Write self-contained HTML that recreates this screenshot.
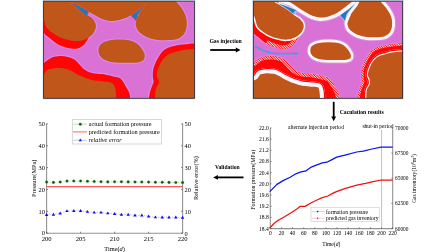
<!DOCTYPE html>
<html><head><meta charset="utf-8"><title>Gas injection figure</title><style>html,body{margin:0;padding:0;background:#fff;width:448px;height:252px;overflow:hidden}svg{display:block}</style></head><body>
<svg width="448" height="252" viewBox="0 0 448 252" font-family="'Liberation Serif',serif">
<rect width="448" height="252" fill="#fff"/>
<clipPath id="cpL"><rect x="43.6" y="1.2" width="150.8" height="97.1"/></clipPath>
<g clip-path="url(#cpL)">
<rect x="43.6" y="1.2" width="150.8" height="97.1" fill="#DA72D6"/>
<g fill="none" stroke="#D88AF3" stroke-width="2.3" stroke-linejoin="round">
<path d="M38,10L40,10L40,8C40.6,9.5 42.97,14 43.6,17C44.23,20 43.7,23.28 43.8,26C43.9,28.72 43.33,31.37 44.2,33.3C45.07,35.23 46.98,35.92 49,37.6C51.02,39.28 53.97,41.93 56.3,43.4C58.63,44.87 60.62,45.57 63,46.4C65.38,47.23 68.15,48.05 70.6,48.4C73.05,48.75 75.57,49.02 77.7,48.5C79.83,47.98 81.92,46.52 83.4,45.3C84.88,44.08 85.73,42.5 86.6,41.2C87.47,39.9 88.27,38.12 88.6,37.5L92,30L60,25Z"/>
<path d="M38,104L38,62L42,63.6C42.33,63.47 43.17,63.33 44,62.8C44.83,62.27 45.67,61.3 47,60.4C48.33,59.5 49.83,58.12 52,57.4C54.17,56.68 57.33,56.18 60,56.1C62.67,56.02 65.58,56.32 68,56.9C70.42,57.48 72.58,58.32 74.5,59.6C76.42,60.88 77.83,62.93 79.5,64.6C81.17,66.27 82.75,68.27 84.5,69.6C86.25,70.93 88.25,71.95 90,72.6C91.75,73.25 92.5,73.2 95,73.5C97.5,73.8 102.07,73.95 105,74.4C107.93,74.85 110.27,75.63 112.6,76.2C114.93,76.77 117.35,77.03 119,77.8C120.65,78.57 121.5,79.6 122.5,80.8C123.5,82 124.15,83.55 125,85C125.85,86.45 126.83,88.03 127.6,89.5C128.37,90.97 129.15,92.05 129.6,93.8C130.05,95.55 130.18,98.97 130.3,100L130.3,104Z"/>
<path d="M200,104L148.9,104L148.9,99L148.9,99C148.97,98.42 149.07,96.83 149.3,95.5C149.53,94.17 149.88,92.48 150.3,91C150.72,89.52 151.25,88.1 151.8,86.6C152.35,85.1 153.4,83.35 153.6,82C153.8,80.65 153.13,79.75 153,78.5C152.87,77.25 152.75,76.08 152.8,74.5C152.85,72.92 152.9,70.83 153.3,69C153.7,67.17 154.45,65.3 155.2,63.5C155.95,61.7 156.83,59.92 157.8,58.2C158.77,56.48 159.8,54.7 161,53.2C162.2,51.7 163.5,50.23 165,49.2C166.5,48.17 168.3,47.58 170,47C171.7,46.42 173.2,46.1 175.2,45.7C177.2,45.3 179.87,44.9 182,44.6C184.13,44.3 185,44.17 188,43.9C191,43.63 198,43.15 200,43Z"/>
<path d="M38,-4L72,-4L70.6,2.2L70.6,2.2C71.67,2.7 75.02,3.98 77,5.2C78.98,6.42 80.95,7.95 82.5,9.5C84.05,11.05 84.88,13.2 86.3,14.5C87.72,15.8 89.55,16.02 91,17.3C92.45,18.58 94.2,20.45 95,22.2C95.8,23.95 96.22,25.8 95.8,27.8C95.38,29.8 94.22,32.3 92.5,34.2C90.78,36.1 87.97,38.05 85.5,39.2C83.03,40.35 80.18,40.9 77.7,41.1C75.22,41.3 73.45,40.98 70.6,40.4C67.75,39.82 63.7,38.9 60.6,37.6C57.5,36.3 54.38,34.38 52,32.6C49.62,30.82 47.7,29.3 46.3,26.9C44.9,24.5 44.65,21.02 43.6,18.2C42.55,15.38 40.6,11.37 40,10Z"/>
<path d="M150,-4L60,-4L70.6,2.2L70.6,2.2C72.17,2.8 77.15,4.33 80,5.8C82.85,7.27 85.37,9.5 87.7,11C90.03,12.5 91.62,13.47 94,14.8C96.38,16.13 99.33,17.98 102,19C104.67,20.02 107.5,20.63 110,20.9C112.5,21.17 114.67,20.98 117,20.6C119.33,20.22 121.67,19.5 124,18.6C126.33,17.7 128.5,16.72 131,15.2C133.5,13.68 136.42,11.4 139,9.5C141.58,7.6 145.25,4.75 146.5,3.8Z"/>
<path d="M146.5,3.8L150,-4L175.2,-4L175.6,1L175.6,1C176.42,1.93 179.07,4.68 180.5,6.6C181.93,8.52 183.23,10.6 184.2,12.5C185.17,14.4 185.87,16.17 186.3,18C186.73,19.83 186.83,21.58 186.8,23.5C186.77,25.42 186.7,27.58 186.1,29.5C185.5,31.42 184.8,33.37 183.2,35C181.6,36.63 179.37,38.43 176.5,39.3C173.63,40.17 169.17,40.1 166,40.2C162.83,40.3 160.25,40.23 157.5,39.9C154.75,39.57 151.92,39.02 149.5,38.2C147.08,37.38 144.95,36.28 143,35C141.05,33.72 139.02,32.25 137.8,30.5C136.58,28.75 135.95,26.17 135.7,24.5C135.45,22.83 136.2,21.17 136.3,20.5L140,12Z"/>
<path d="M98.4,50.5C98.37,48.87 98.93,47.07 99.6,45.8C100.27,44.53 101,43.75 102.4,42.9C103.8,42.05 105.23,41.25 108,40.7C110.77,40.15 115.33,39.65 119,39.6C122.67,39.55 127.07,39.78 130,40.4C132.93,41.02 134.67,41.97 136.6,43.3C138.53,44.63 140.25,46.53 141.6,48.4C142.95,50.27 144.37,52.57 144.7,54.5C145.03,56.43 144.72,58.68 143.6,60C142.48,61.32 140.93,61.93 138,62.4C135.07,62.87 130.33,62.83 126,62.8C121.67,62.77 115.67,62.73 112,62.2C108.33,61.67 106.03,60.7 104,59.6C101.97,58.5 100.73,57.12 99.8,55.6C98.87,54.08 98.43,52.13 98.4,50.5Z"/>
<path d="M28,104L28,78L33,77.2C34,77.07 37.23,76.77 39,76.4C40.77,76.03 42.45,75.8 43.6,75C44.75,74.2 45,72.55 45.9,71.6C46.8,70.65 47.53,69.87 49,69.3C50.47,68.73 52.87,68.4 54.7,68.2C56.53,68 58.15,68.02 60,68.1C61.85,68.18 63.88,68.22 65.8,68.7C67.72,69.18 69.63,70.07 71.5,71C73.37,71.93 75.25,73.37 77,74.3C78.75,75.23 80.43,75.93 82,76.6C83.57,77.27 84.4,77.65 86.4,78.3C88.4,78.95 91.07,79.98 94,80.5C96.93,81.02 101.33,81.12 104,81.4C106.67,81.68 108.4,81.68 110,82.2C111.6,82.72 112.72,83.37 113.6,84.5C114.48,85.63 114.9,87.42 115.3,89C115.7,90.58 115.85,92.17 116,94C116.15,95.83 116.17,99 116.2,100L116.2,104Z"/>
<path d="M200,104L155.2,104L155.2,98.5L155.2,98.5C155.22,97.58 155.13,94.72 155.3,93C155.47,91.28 155.62,89.77 156.2,88.2C156.78,86.63 158.4,84.97 158.8,83.6C159.2,82.23 158.92,81.23 158.6,80C158.28,78.77 157.13,77.6 156.9,76.2C156.67,74.8 156.85,73.2 157.2,71.6C157.55,70 158.32,68.23 159,66.6C159.68,64.97 160.37,63.32 161.3,61.8C162.23,60.28 163.48,58.68 164.6,57.5C165.72,56.32 166.77,55.45 168,54.7C169.23,53.95 170.5,53.52 172,53C173.5,52.48 175.33,52.07 177,51.6C178.67,51.13 180.17,50.57 182,50.2C183.83,49.83 185,49.67 188,49.4C191,49.13 198,48.73 200,48.6Z"/>
</g>
<path d="M38,10L40,10L40,8C40.6,9.5 42.97,14 43.6,17C44.23,20 43.7,23.28 43.8,26C43.9,28.72 43.33,31.37 44.2,33.3C45.07,35.23 46.98,35.92 49,37.6C51.02,39.28 53.97,41.93 56.3,43.4C58.63,44.87 60.62,45.57 63,46.4C65.38,47.23 68.15,48.05 70.6,48.4C73.05,48.75 75.57,49.02 77.7,48.5C79.83,47.98 81.92,46.52 83.4,45.3C84.88,44.08 85.73,42.5 86.6,41.2C87.47,39.9 88.27,38.12 88.6,37.5L92,30L60,25Z" fill="#FF0606"/>
<path d="M38,104L38,62L42,63.6C42.33,63.47 43.17,63.33 44,62.8C44.83,62.27 45.67,61.3 47,60.4C48.33,59.5 49.83,58.12 52,57.4C54.17,56.68 57.33,56.18 60,56.1C62.67,56.02 65.58,56.32 68,56.9C70.42,57.48 72.58,58.32 74.5,59.6C76.42,60.88 77.83,62.93 79.5,64.6C81.17,66.27 82.75,68.27 84.5,69.6C86.25,70.93 88.25,71.95 90,72.6C91.75,73.25 92.5,73.2 95,73.5C97.5,73.8 102.07,73.95 105,74.4C107.93,74.85 110.27,75.63 112.6,76.2C114.93,76.77 117.35,77.03 119,77.8C120.65,78.57 121.5,79.6 122.5,80.8C123.5,82 124.15,83.55 125,85C125.85,86.45 126.83,88.03 127.6,89.5C128.37,90.97 129.15,92.05 129.6,93.8C130.05,95.55 130.18,98.97 130.3,100L130.3,104Z" fill="#FF0606"/>
<path d="M200,104L148.9,104L148.9,99L148.9,99C148.97,98.42 149.07,96.83 149.3,95.5C149.53,94.17 149.88,92.48 150.3,91C150.72,89.52 151.25,88.1 151.8,86.6C152.35,85.1 153.4,83.35 153.6,82C153.8,80.65 153.13,79.75 153,78.5C152.87,77.25 152.75,76.08 152.8,74.5C152.85,72.92 152.9,70.83 153.3,69C153.7,67.17 154.45,65.3 155.2,63.5C155.95,61.7 156.83,59.92 157.8,58.2C158.77,56.48 159.8,54.7 161,53.2C162.2,51.7 163.5,50.23 165,49.2C166.5,48.17 168.3,47.58 170,47C171.7,46.42 173.2,46.1 175.2,45.7C177.2,45.3 179.87,44.9 182,44.6C184.13,44.3 185,44.17 188,43.9C191,43.63 198,43.15 200,43Z" fill="#FF0606"/>
<path d="M38,-4L72,-4L70.6,2.2L70.6,2.2C71.67,2.7 75.02,3.98 77,5.2C78.98,6.42 80.95,7.95 82.5,9.5C84.05,11.05 84.88,13.2 86.3,14.5C87.72,15.8 89.55,16.02 91,17.3C92.45,18.58 94.2,20.45 95,22.2C95.8,23.95 96.22,25.8 95.8,27.8C95.38,29.8 94.22,32.3 92.5,34.2C90.78,36.1 87.97,38.05 85.5,39.2C83.03,40.35 80.18,40.9 77.7,41.1C75.22,41.3 73.45,40.98 70.6,40.4C67.75,39.82 63.7,38.9 60.6,37.6C57.5,36.3 54.38,34.38 52,32.6C49.62,30.82 47.7,29.3 46.3,26.9C44.9,24.5 44.65,21.02 43.6,18.2C42.55,15.38 40.6,11.37 40,10Z" fill="#C1561A"/>
<path d="M150,-4L60,-4L70.6,2.2L70.6,2.2C72.17,2.8 77.15,4.33 80,5.8C82.85,7.27 85.37,9.5 87.7,11C90.03,12.5 91.62,13.47 94,14.8C96.38,16.13 99.33,17.98 102,19C104.67,20.02 107.5,20.63 110,20.9C112.5,21.17 114.67,20.98 117,20.6C119.33,20.22 121.67,19.5 124,18.6C126.33,17.7 128.5,16.72 131,15.2C133.5,13.68 136.42,11.4 139,9.5C141.58,7.6 145.25,4.75 146.5,3.8Z" fill="#C1561A"/>
<path d="M146.5,3.8L150,-4L175.2,-4L175.6,1L175.6,1C176.42,1.93 179.07,4.68 180.5,6.6C181.93,8.52 183.23,10.6 184.2,12.5C185.17,14.4 185.87,16.17 186.3,18C186.73,19.83 186.83,21.58 186.8,23.5C186.77,25.42 186.7,27.58 186.1,29.5C185.5,31.42 184.8,33.37 183.2,35C181.6,36.63 179.37,38.43 176.5,39.3C173.63,40.17 169.17,40.1 166,40.2C162.83,40.3 160.25,40.23 157.5,39.9C154.75,39.57 151.92,39.02 149.5,38.2C147.08,37.38 144.95,36.28 143,35C141.05,33.72 139.02,32.25 137.8,30.5C136.58,28.75 135.95,26.17 135.7,24.5C135.45,22.83 136.2,21.17 136.3,20.5L140,12Z" fill="#C1561A"/>
<path d="M98.4,50.5C98.37,48.87 98.93,47.07 99.6,45.8C100.27,44.53 101,43.75 102.4,42.9C103.8,42.05 105.23,41.25 108,40.7C110.77,40.15 115.33,39.65 119,39.6C122.67,39.55 127.07,39.78 130,40.4C132.93,41.02 134.67,41.97 136.6,43.3C138.53,44.63 140.25,46.53 141.6,48.4C142.95,50.27 144.37,52.57 144.7,54.5C145.03,56.43 144.72,58.68 143.6,60C142.48,61.32 140.93,61.93 138,62.4C135.07,62.87 130.33,62.83 126,62.8C121.67,62.77 115.67,62.73 112,62.2C108.33,61.67 106.03,60.7 104,59.6C101.97,58.5 100.73,57.12 99.8,55.6C98.87,54.08 98.43,52.13 98.4,50.5Z" fill="#C1561A"/>
<path d="M28,104L28,78L33,77.2C34,77.07 37.23,76.77 39,76.4C40.77,76.03 42.45,75.8 43.6,75C44.75,74.2 45,72.55 45.9,71.6C46.8,70.65 47.53,69.87 49,69.3C50.47,68.73 52.87,68.4 54.7,68.2C56.53,68 58.15,68.02 60,68.1C61.85,68.18 63.88,68.22 65.8,68.7C67.72,69.18 69.63,70.07 71.5,71C73.37,71.93 75.25,73.37 77,74.3C78.75,75.23 80.43,75.93 82,76.6C83.57,77.27 84.4,77.65 86.4,78.3C88.4,78.95 91.07,79.98 94,80.5C96.93,81.02 101.33,81.12 104,81.4C106.67,81.68 108.4,81.68 110,82.2C111.6,82.72 112.72,83.37 113.6,84.5C114.48,85.63 114.9,87.42 115.3,89C115.7,90.58 115.85,92.17 116,94C116.15,95.83 116.17,99 116.2,100L116.2,104Z" fill="#C1561A"/>
<path d="M200,104L155.2,104L155.2,98.5L155.2,98.5C155.22,97.58 155.13,94.72 155.3,93C155.47,91.28 155.62,89.77 156.2,88.2C156.78,86.63 158.4,84.97 158.8,83.6C159.2,82.23 158.92,81.23 158.6,80C158.28,78.77 157.13,77.6 156.9,76.2C156.67,74.8 156.85,73.2 157.2,71.6C157.55,70 158.32,68.23 159,66.6C159.68,64.97 160.37,63.32 161.3,61.8C162.23,60.28 163.48,58.68 164.6,57.5C165.72,56.32 166.77,55.45 168,54.7C169.23,53.95 170.5,53.52 172,53C173.5,52.48 175.33,52.07 177,51.6C178.67,51.13 180.17,50.57 182,50.2C183.83,49.83 185,49.67 188,49.4C191,49.13 198,48.73 200,48.6Z" fill="#C1561A"/>
<path d="M70,2.8C70.43,2.67 73.33,3.35 75,3.9C76.67,4.45 78.33,5.22 80,6.1C81.67,6.98 83.58,8.33 85,9.2C86.42,10.07 88.05,10.53 88.5,11.3C88.95,12.07 88,12.98 87.7,13.8C87.4,14.62 87.32,16.1 86.7,16.2C86.08,16.3 85.05,15.27 84,14.4C82.95,13.53 81.73,12.15 80.4,11C79.07,9.85 77.33,8.55 76,7.5C74.67,6.45 73.4,5.48 72.4,4.7C71.4,3.92 69.57,2.93 70,2.8Z" fill="#1E78C8" stroke="#EC5212" stroke-width="1.0" stroke-linejoin="round"/>
<path d="M146.6,3.6C146.9,3.7 143.98,7.03 142.6,8.8C141.22,10.57 139.33,12.18 138.3,14.2C137.27,16.22 137.08,20.17 136.4,20.9C135.72,21.63 135.05,19.52 134.2,18.6C133.35,17.68 131.08,16.5 131.3,15.4C131.52,14.3 133.92,13.2 135.5,12C137.08,10.8 138.95,9.6 140.8,8.2C142.65,6.8 146.3,3.5 146.6,3.6Z" fill="#1E78C8" stroke="#EC5212" stroke-width="1.0" stroke-linejoin="round"/>
</g>
<rect x="43.05" y="0.65" width="151.9" height="98.2" fill="none" stroke="#A9C2D2" stroke-width="0.6"/>
<rect x="43.6" y="1.2" width="150.8" height="97.1" fill="none" stroke="#262a30" stroke-width="0.85"/>
<defs>
<pattern id="hatch" width="1.8" height="1.8" patternUnits="userSpaceOnUse" patternTransform="rotate(-45)"><rect width="1.8" height="1.8" fill="#FF0606"/><rect width="0.8" height="1.8" fill="#fff"/></pattern>
<pattern id="hatchw" width="1.5" height="1.5" patternUnits="userSpaceOnUse" patternTransform="rotate(45)"><rect width="1.5" height="1.5" fill="#2878D0"/><rect width="0.75" height="1.5" fill="#fff"/></pattern>
<clipPath id="cg0"><path d="M38,-4L72,-4L70.6,2.2L70.6,2.2C71.67,2.7 75.02,3.98 77,5.2C78.98,6.42 80.95,7.95 82.5,9.5C84.05,11.05 84.88,13.2 86.3,14.5C87.72,15.8 89.55,16.02 91,17.3C92.45,18.58 94.2,20.45 95,22.2C95.8,23.95 96.22,25.8 95.8,27.8C95.38,29.8 94.22,32.3 92.5,34.2C90.78,36.1 87.97,38.05 85.5,39.2C83.03,40.35 80.18,40.9 77.7,41.1C75.22,41.3 73.45,40.98 70.6,40.4C67.75,39.82 63.7,38.9 60.6,37.6C57.5,36.3 54.38,34.38 52,32.6C49.62,30.82 47.7,29.3 46.3,26.9C44.9,24.5 44.65,21.02 43.6,18.2C42.55,15.38 40.6,11.37 40,10Z"/></clipPath>
<clipPath id="cg1"><path d="M150,-4L60,-4L70.6,2.2L70.6,2.2C72.17,2.8 77.15,4.33 80,5.8C82.85,7.27 85.37,9.5 87.7,11C90.03,12.5 91.62,13.47 94,14.8C96.38,16.13 99.33,17.98 102,19C104.67,20.02 107.5,20.63 110,20.9C112.5,21.17 114.67,20.98 117,20.6C119.33,20.22 121.67,19.5 124,18.6C126.33,17.7 128.5,16.72 131,15.2C133.5,13.68 136.42,11.4 139,9.5C141.58,7.6 145.25,4.75 146.5,3.8Z"/></clipPath>
<clipPath id="cg2"><path d="M146.5,3.8L150,-4L175.2,-4L175.6,1L175.6,1C176.42,1.93 179.07,4.68 180.5,6.6C181.93,8.52 183.23,10.6 184.2,12.5C185.17,14.4 185.87,16.17 186.3,18C186.73,19.83 186.83,21.58 186.8,23.5C186.77,25.42 186.7,27.58 186.1,29.5C185.5,31.42 184.8,33.37 183.2,35C181.6,36.63 179.37,38.43 176.5,39.3C173.63,40.17 169.17,40.1 166,40.2C162.83,40.3 160.25,40.23 157.5,39.9C154.75,39.57 151.92,39.02 149.5,38.2C147.08,37.38 144.95,36.28 143,35C141.05,33.72 139.02,32.25 137.8,30.5C136.58,28.75 135.95,26.17 135.7,24.5C135.45,22.83 136.2,21.17 136.3,20.5L140,12Z"/></clipPath>
<clipPath id="cg3"><path d="M98.4,50.5C98.37,48.87 98.93,47.07 99.6,45.8C100.27,44.53 101,43.75 102.4,42.9C103.8,42.05 105.23,41.25 108,40.7C110.77,40.15 115.33,39.65 119,39.6C122.67,39.55 127.07,39.78 130,40.4C132.93,41.02 134.67,41.97 136.6,43.3C138.53,44.63 140.25,46.53 141.6,48.4C142.95,50.27 144.37,52.57 144.7,54.5C145.03,56.43 144.72,58.68 143.6,60C142.48,61.32 140.93,61.93 138,62.4C135.07,62.87 130.33,62.83 126,62.8C121.67,62.77 115.67,62.73 112,62.2C108.33,61.67 106.03,60.7 104,59.6C101.97,58.5 100.73,57.12 99.8,55.6C98.87,54.08 98.43,52.13 98.4,50.5Z"/></clipPath>
<clipPath id="cg4"><path d="M28,104L28,78L33,77.2C34,77.07 37.23,76.77 39,76.4C40.77,76.03 42.45,75.8 43.6,75C44.75,74.2 45,72.55 45.9,71.6C46.8,70.65 47.53,69.87 49,69.3C50.47,68.73 52.87,68.4 54.7,68.2C56.53,68 58.15,68.02 60,68.1C61.85,68.18 63.88,68.22 65.8,68.7C67.72,69.18 69.63,70.07 71.5,71C73.37,71.93 75.25,73.37 77,74.3C78.75,75.23 80.43,75.93 82,76.6C83.57,77.27 84.4,77.65 86.4,78.3C88.4,78.95 91.07,79.98 94,80.5C96.93,81.02 101.33,81.12 104,81.4C106.67,81.68 108.4,81.68 110,82.2C111.6,82.72 112.72,83.37 113.6,84.5C114.48,85.63 114.9,87.42 115.3,89C115.7,90.58 115.85,92.17 116,94C116.15,95.83 116.17,99 116.2,100L116.2,104Z"/></clipPath>
<clipPath id="cg5"><path d="M200,104L155.2,104L155.2,98.5L155.2,98.5C155.22,97.58 155.13,94.72 155.3,93C155.47,91.28 155.62,89.77 156.2,88.2C156.78,86.63 158.4,84.97 158.8,83.6C159.2,82.23 158.92,81.23 158.6,80C158.28,78.77 157.13,77.6 156.9,76.2C156.67,74.8 156.85,73.2 157.2,71.6C157.55,70 158.32,68.23 159,66.6C159.68,64.97 160.37,63.32 161.3,61.8C162.23,60.28 163.48,58.68 164.6,57.5C165.72,56.32 166.77,55.45 168,54.7C169.23,53.95 170.5,53.52 172,53C173.5,52.48 175.33,52.07 177,51.6C178.67,51.13 180.17,50.57 182,50.2C183.83,49.83 185,49.67 188,49.4C191,49.13 198,48.73 200,48.6Z"/></clipPath>
<clipPath id="cr0"><path d="M38,10L40,10L40,8C40.6,9.5 42.97,14 43.6,17C44.23,20 43.7,23.28 43.8,26C43.9,28.72 43.33,31.37 44.2,33.3C45.07,35.23 46.98,35.92 49,37.6C51.02,39.28 53.97,41.93 56.3,43.4C58.63,44.87 60.62,45.57 63,46.4C65.38,47.23 68.15,48.05 70.6,48.4C73.05,48.75 75.57,49.02 77.7,48.5C79.83,47.98 81.92,46.52 83.4,45.3C84.88,44.08 85.73,42.5 86.6,41.2C87.47,39.9 88.27,38.12 88.6,37.5L92,30L60,25Z"/></clipPath>
<clipPath id="cr1"><path d="M38,104L38,62L42,63.6C42.33,63.47 43.17,63.33 44,62.8C44.83,62.27 45.67,61.3 47,60.4C48.33,59.5 49.83,58.12 52,57.4C54.17,56.68 57.33,56.18 60,56.1C62.67,56.02 65.58,56.32 68,56.9C70.42,57.48 72.58,58.32 74.5,59.6C76.42,60.88 77.83,62.93 79.5,64.6C81.17,66.27 82.75,68.27 84.5,69.6C86.25,70.93 88.25,71.95 90,72.6C91.75,73.25 92.5,73.2 95,73.5C97.5,73.8 102.07,73.95 105,74.4C107.93,74.85 110.27,75.63 112.6,76.2C114.93,76.77 117.35,77.03 119,77.8C120.65,78.57 121.5,79.6 122.5,80.8C123.5,82 124.15,83.55 125,85C125.85,86.45 126.83,88.03 127.6,89.5C128.37,90.97 129.15,92.05 129.6,93.8C130.05,95.55 130.18,98.97 130.3,100L130.3,104Z"/></clipPath>
<clipPath id="cr2"><path d="M200,104L148.9,104L148.9,99L148.9,99C148.97,98.42 149.07,96.83 149.3,95.5C149.53,94.17 149.88,92.48 150.3,91C150.72,89.52 151.25,88.1 151.8,86.6C152.35,85.1 153.4,83.35 153.6,82C153.8,80.65 153.13,79.75 153,78.5C152.87,77.25 152.75,76.08 152.8,74.5C152.85,72.92 152.9,70.83 153.3,69C153.7,67.17 154.45,65.3 155.2,63.5C155.95,61.7 156.83,59.92 157.8,58.2C158.77,56.48 159.8,54.7 161,53.2C162.2,51.7 163.5,50.23 165,49.2C166.5,48.17 168.3,47.58 170,47C171.7,46.42 173.2,46.1 175.2,45.7C177.2,45.3 179.87,44.9 182,44.6C184.13,44.3 185,44.17 188,43.9C191,43.63 198,43.15 200,43Z"/></clipPath>
</defs>
<clipPath id="cpR"><rect x="43.6" y="1.2" width="150.8" height="97.1"/></clipPath>
<g transform="translate(253.4,0) scale(0.9894,1) translate(-43.6,0)"><g clip-path="url(#cpR)">
<rect x="43.6" y="1.2" width="150.8" height="97.1" fill="#DA72D6"/>
<g fill="none" stroke="#D88AF3" stroke-width="1.8" stroke-linejoin="round">
<path d="M38,10L40,10L40,8C40.6,9.5 42.97,14 43.6,17C44.23,20 43.7,23.28 43.8,26C43.9,28.72 43.33,31.37 44.2,33.3C45.07,35.23 46.98,35.92 49,37.6C51.02,39.28 53.97,41.93 56.3,43.4C58.63,44.87 60.62,45.57 63,46.4C65.38,47.23 68.15,48.05 70.6,48.4C73.05,48.75 75.57,49.02 77.7,48.5C79.83,47.98 81.92,46.52 83.4,45.3C84.88,44.08 85.73,42.5 86.6,41.2C87.47,39.9 88.27,38.12 88.6,37.5L92,30L60,25Z"/>
<path d="M38,104L38,62L42,63.6C42.33,63.47 43.17,63.33 44,62.8C44.83,62.27 45.67,61.3 47,60.4C48.33,59.5 49.83,58.12 52,57.4C54.17,56.68 57.33,56.18 60,56.1C62.67,56.02 65.58,56.32 68,56.9C70.42,57.48 72.58,58.32 74.5,59.6C76.42,60.88 77.83,62.93 79.5,64.6C81.17,66.27 82.75,68.27 84.5,69.6C86.25,70.93 88.25,71.95 90,72.6C91.75,73.25 92.5,73.2 95,73.5C97.5,73.8 102.07,73.95 105,74.4C107.93,74.85 110.27,75.63 112.6,76.2C114.93,76.77 117.35,77.03 119,77.8C120.65,78.57 121.5,79.6 122.5,80.8C123.5,82 124.15,83.55 125,85C125.85,86.45 126.83,88.03 127.6,89.5C128.37,90.97 129.15,92.05 129.6,93.8C130.05,95.55 130.18,98.97 130.3,100L130.3,104Z"/>
<path d="M200,104L148.9,104L148.9,99L148.9,99C148.97,98.42 149.07,96.83 149.3,95.5C149.53,94.17 149.88,92.48 150.3,91C150.72,89.52 151.25,88.1 151.8,86.6C152.35,85.1 153.4,83.35 153.6,82C153.8,80.65 153.13,79.75 153,78.5C152.87,77.25 152.75,76.08 152.8,74.5C152.85,72.92 152.9,70.83 153.3,69C153.7,67.17 154.45,65.3 155.2,63.5C155.95,61.7 156.83,59.92 157.8,58.2C158.77,56.48 159.8,54.7 161,53.2C162.2,51.7 163.5,50.23 165,49.2C166.5,48.17 168.3,47.58 170,47C171.7,46.42 173.2,46.1 175.2,45.7C177.2,45.3 179.87,44.9 182,44.6C184.13,44.3 185,44.17 188,43.9C191,43.63 198,43.15 200,43Z"/>
<path d="M38,-4L72,-4L70.6,2.2L70.6,2.2C71.67,2.7 75.02,3.98 77,5.2C78.98,6.42 80.95,7.95 82.5,9.5C84.05,11.05 84.88,13.2 86.3,14.5C87.72,15.8 89.55,16.02 91,17.3C92.45,18.58 94.2,20.45 95,22.2C95.8,23.95 96.22,25.8 95.8,27.8C95.38,29.8 94.22,32.3 92.5,34.2C90.78,36.1 87.97,38.05 85.5,39.2C83.03,40.35 80.18,40.9 77.7,41.1C75.22,41.3 73.45,40.98 70.6,40.4C67.75,39.82 63.7,38.9 60.6,37.6C57.5,36.3 54.38,34.38 52,32.6C49.62,30.82 47.7,29.3 46.3,26.9C44.9,24.5 44.65,21.02 43.6,18.2C42.55,15.38 40.6,11.37 40,10Z"/>
<path d="M150,-4L60,-4L70.6,2.2L70.6,2.2C72.17,2.8 77.15,4.33 80,5.8C82.85,7.27 85.37,9.5 87.7,11C90.03,12.5 91.62,13.47 94,14.8C96.38,16.13 99.33,17.98 102,19C104.67,20.02 107.5,20.63 110,20.9C112.5,21.17 114.67,20.98 117,20.6C119.33,20.22 121.67,19.5 124,18.6C126.33,17.7 128.5,16.72 131,15.2C133.5,13.68 136.42,11.4 139,9.5C141.58,7.6 145.25,4.75 146.5,3.8Z"/>
<path d="M146.5,3.8L150,-4L175.2,-4L175.6,1L175.6,1C176.42,1.93 179.07,4.68 180.5,6.6C181.93,8.52 183.23,10.6 184.2,12.5C185.17,14.4 185.87,16.17 186.3,18C186.73,19.83 186.83,21.58 186.8,23.5C186.77,25.42 186.7,27.58 186.1,29.5C185.5,31.42 184.8,33.37 183.2,35C181.6,36.63 179.37,38.43 176.5,39.3C173.63,40.17 169.17,40.1 166,40.2C162.83,40.3 160.25,40.23 157.5,39.9C154.75,39.57 151.92,39.02 149.5,38.2C147.08,37.38 144.95,36.28 143,35C141.05,33.72 139.02,32.25 137.8,30.5C136.58,28.75 135.95,26.17 135.7,24.5C135.45,22.83 136.2,21.17 136.3,20.5L140,12Z"/>
<path d="M98.4,50.5C98.37,48.87 98.93,47.07 99.6,45.8C100.27,44.53 101,43.75 102.4,42.9C103.8,42.05 105.23,41.25 108,40.7C110.77,40.15 115.33,39.65 119,39.6C122.67,39.55 127.07,39.78 130,40.4C132.93,41.02 134.67,41.97 136.6,43.3C138.53,44.63 140.25,46.53 141.6,48.4C142.95,50.27 144.37,52.57 144.7,54.5C145.03,56.43 144.72,58.68 143.6,60C142.48,61.32 140.93,61.93 138,62.4C135.07,62.87 130.33,62.83 126,62.8C121.67,62.77 115.67,62.73 112,62.2C108.33,61.67 106.03,60.7 104,59.6C101.97,58.5 100.73,57.12 99.8,55.6C98.87,54.08 98.43,52.13 98.4,50.5Z"/>
<path d="M28,104L28,78L33,77.2C34,77.07 37.23,76.77 39,76.4C40.77,76.03 42.45,75.8 43.6,75C44.75,74.2 45,72.55 45.9,71.6C46.8,70.65 47.53,69.87 49,69.3C50.47,68.73 52.87,68.4 54.7,68.2C56.53,68 58.15,68.02 60,68.1C61.85,68.18 63.88,68.22 65.8,68.7C67.72,69.18 69.63,70.07 71.5,71C73.37,71.93 75.25,73.37 77,74.3C78.75,75.23 80.43,75.93 82,76.6C83.57,77.27 84.4,77.65 86.4,78.3C88.4,78.95 91.07,79.98 94,80.5C96.93,81.02 101.33,81.12 104,81.4C106.67,81.68 108.4,81.68 110,82.2C111.6,82.72 112.72,83.37 113.6,84.5C114.48,85.63 114.9,87.42 115.3,89C115.7,90.58 115.85,92.17 116,94C116.15,95.83 116.17,99 116.2,100L116.2,104Z"/>
<path d="M200,104L155.2,104L155.2,98.5L155.2,98.5C155.22,97.58 155.13,94.72 155.3,93C155.47,91.28 155.62,89.77 156.2,88.2C156.78,86.63 158.4,84.97 158.8,83.6C159.2,82.23 158.92,81.23 158.6,80C158.28,78.77 157.13,77.6 156.9,76.2C156.67,74.8 156.85,73.2 157.2,71.6C157.55,70 158.32,68.23 159,66.6C159.68,64.97 160.37,63.32 161.3,61.8C162.23,60.28 163.48,58.68 164.6,57.5C165.72,56.32 166.77,55.45 168,54.7C169.23,53.95 170.5,53.52 172,53C173.5,52.48 175.33,52.07 177,51.6C178.67,51.13 180.17,50.57 182,50.2C183.83,49.83 185,49.67 188,49.4C191,49.13 198,48.73 200,48.6Z"/>
</g>
<path d="M38,10L40,10L40,8C40.6,9.5 42.97,14 43.6,17C44.23,20 43.7,23.28 43.8,26C43.9,28.72 43.33,31.37 44.2,33.3C45.07,35.23 46.98,35.92 49,37.6C51.02,39.28 53.97,41.93 56.3,43.4C58.63,44.87 60.62,45.57 63,46.4C65.38,47.23 68.15,48.05 70.6,48.4C73.05,48.75 75.57,49.02 77.7,48.5C79.83,47.98 81.92,46.52 83.4,45.3C84.88,44.08 85.73,42.5 86.6,41.2C87.47,39.9 88.27,38.12 88.6,37.5L92,30L60,25Z" fill="#FF0606"/>
<path d="M56.3,43.4C57.42,43.9 60.62,45.57 63,46.4C65.38,47.23 68.15,48.05 70.6,48.4C73.05,48.75 75.57,49.02 77.7,48.5C79.83,47.98 81.92,46.52 83.4,45.3C84.88,44.08 85.73,42.5 86.6,41.2C87.47,39.9 88.27,38.12 88.6,37.5" fill="none" stroke="url(#hatch)" stroke-width="7" clip-path="url(#cr0)"/>
<path d="M38,104L38,62L42,63.6C42.33,63.47 43.17,63.33 44,62.8C44.83,62.27 45.67,61.3 47,60.4C48.33,59.5 49.83,58.12 52,57.4C54.17,56.68 57.33,56.18 60,56.1C62.67,56.02 65.58,56.32 68,56.9C70.42,57.48 72.58,58.32 74.5,59.6C76.42,60.88 77.83,62.93 79.5,64.6C81.17,66.27 82.75,68.27 84.5,69.6C86.25,70.93 88.25,71.95 90,72.6C91.75,73.25 92.5,73.2 95,73.5C97.5,73.8 102.07,73.95 105,74.4C107.93,74.85 110.27,75.63 112.6,76.2C114.93,76.77 117.35,77.03 119,77.8C120.65,78.57 121.5,79.6 122.5,80.8C123.5,82 124.15,83.55 125,85C125.85,86.45 126.83,88.03 127.6,89.5C128.37,90.97 129.15,92.05 129.6,93.8C130.05,95.55 130.18,98.97 130.3,100L130.3,104Z" fill="#FF0606"/>
<path d="M38,104L38,62L42,63.6C42.33,63.47 43.17,63.33 44,62.8C44.83,62.27 45.67,61.3 47,60.4C48.33,59.5 49.83,58.12 52,57.4C54.17,56.68 57.33,56.18 60,56.1C62.67,56.02 65.58,56.32 68,56.9C70.42,57.48 72.58,58.32 74.5,59.6C76.42,60.88 77.83,62.93 79.5,64.6C81.17,66.27 82.75,68.27 84.5,69.6C86.25,70.93 88.25,71.95 90,72.6C91.75,73.25 92.5,73.2 95,73.5C97.5,73.8 102.07,73.95 105,74.4C107.93,74.85 110.27,75.63 112.6,76.2C114.93,76.77 117.35,77.03 119,77.8C120.65,78.57 121.5,79.6 122.5,80.8C123.5,82 124.15,83.55 125,85C125.85,86.45 126.83,88.03 127.6,89.5C128.37,90.97 129.15,92.05 129.6,93.8C130.05,95.55 130.18,98.97 130.3,100L130.3,104Z" fill="none" stroke="url(#hatch)" stroke-width="6.6" clip-path="url(#cr1)"/>
<path d="M200,104L148.9,104L148.9,99L148.9,99C148.97,98.42 149.07,96.83 149.3,95.5C149.53,94.17 149.88,92.48 150.3,91C150.72,89.52 151.25,88.1 151.8,86.6C152.35,85.1 153.4,83.35 153.6,82C153.8,80.65 153.13,79.75 153,78.5C152.87,77.25 152.75,76.08 152.8,74.5C152.85,72.92 152.9,70.83 153.3,69C153.7,67.17 154.45,65.3 155.2,63.5C155.95,61.7 156.83,59.92 157.8,58.2C158.77,56.48 159.8,54.7 161,53.2C162.2,51.7 163.5,50.23 165,49.2C166.5,48.17 168.3,47.58 170,47C171.7,46.42 173.2,46.1 175.2,45.7C177.2,45.3 179.87,44.9 182,44.6C184.13,44.3 185,44.17 188,43.9C191,43.63 198,43.15 200,43Z" fill="#FF0606"/>
<path d="M200,104L148.9,104L148.9,99L148.9,99C148.97,98.42 149.07,96.83 149.3,95.5C149.53,94.17 149.88,92.48 150.3,91C150.72,89.52 151.25,88.1 151.8,86.6C152.35,85.1 153.4,83.35 153.6,82C153.8,80.65 153.13,79.75 153,78.5C152.87,77.25 152.75,76.08 152.8,74.5C152.85,72.92 152.9,70.83 153.3,69C153.7,67.17 154.45,65.3 155.2,63.5C155.95,61.7 156.83,59.92 157.8,58.2C158.77,56.48 159.8,54.7 161,53.2C162.2,51.7 163.5,50.23 165,49.2C166.5,48.17 168.3,47.58 170,47C171.7,46.42 173.2,46.1 175.2,45.7C177.2,45.3 179.87,44.9 182,44.6C184.13,44.3 185,44.17 188,43.9C191,43.63 198,43.15 200,43Z" fill="none" stroke="url(#hatch)" stroke-width="4.4" clip-path="url(#cr2)"/>
<g clip-path="url(#cg0)"><path d="M38,-4L72,-4L70.6,2.2L70.6,2.2C71.67,2.7 75.02,3.98 77,5.2C78.98,6.42 80.95,7.95 82.5,9.5C84.05,11.05 84.88,13.2 86.3,14.5C87.72,15.8 89.55,16.02 91,17.3C92.45,18.58 94.2,20.45 95,22.2C95.8,23.95 96.22,25.8 95.8,27.8C95.38,29.8 94.22,32.3 92.5,34.2C90.78,36.1 87.97,38.05 85.5,39.2C83.03,40.35 80.18,40.9 77.7,41.1C75.22,41.3 73.45,40.98 70.6,40.4C67.75,39.82 63.7,38.9 60.6,37.6C57.5,36.3 54.38,34.38 52,32.6C49.62,30.82 47.7,29.3 46.3,26.9C44.9,24.5 44.65,21.02 43.6,18.2C42.55,15.38 40.6,11.37 40,10Z" fill="#C1561A" stroke="#FCF4FC" stroke-width="3.0"/></g>
<g clip-path="url(#cg1)"><path d="M150,-4L60,-4L70.6,2.2L70.6,2.2C72.17,2.8 77.15,4.33 80,5.8C82.85,7.27 85.37,9.5 87.7,11C90.03,12.5 91.62,13.47 94,14.8C96.38,16.13 99.33,17.98 102,19C104.67,20.02 107.5,20.63 110,20.9C112.5,21.17 114.67,20.98 117,20.6C119.33,20.22 121.67,19.5 124,18.6C126.33,17.7 128.5,16.72 131,15.2C133.5,13.68 136.42,11.4 139,9.5C141.58,7.6 145.25,4.75 146.5,3.8Z" fill="#C1561A" stroke="#FCF4FC" stroke-width="7.0"/></g>
<g clip-path="url(#cg2)"><path d="M146.5,3.8L150,-4L175.2,-4L175.6,1L175.6,1C176.42,1.93 179.07,4.68 180.5,6.6C181.93,8.52 183.23,10.6 184.2,12.5C185.17,14.4 185.87,16.17 186.3,18C186.73,19.83 186.83,21.58 186.8,23.5C186.77,25.42 186.7,27.58 186.1,29.5C185.5,31.42 184.8,33.37 183.2,35C181.6,36.63 179.37,38.43 176.5,39.3C173.63,40.17 169.17,40.1 166,40.2C162.83,40.3 160.25,40.23 157.5,39.9C154.75,39.57 151.92,39.02 149.5,38.2C147.08,37.38 144.95,36.28 143,35C141.05,33.72 139.02,32.25 137.8,30.5C136.58,28.75 135.95,26.17 135.7,24.5C135.45,22.83 136.2,21.17 136.3,20.5L140,12Z" fill="#C1561A" stroke="#FCF4FC" stroke-width="6.0"/></g>
<g clip-path="url(#cg3)"><path d="M98.4,50.5C98.37,48.87 98.93,47.07 99.6,45.8C100.27,44.53 101,43.75 102.4,42.9C103.8,42.05 105.23,41.25 108,40.7C110.77,40.15 115.33,39.65 119,39.6C122.67,39.55 127.07,39.78 130,40.4C132.93,41.02 134.67,41.97 136.6,43.3C138.53,44.63 140.25,46.53 141.6,48.4C142.95,50.27 144.37,52.57 144.7,54.5C145.03,56.43 144.72,58.68 143.6,60C142.48,61.32 140.93,61.93 138,62.4C135.07,62.87 130.33,62.83 126,62.8C121.67,62.77 115.67,62.73 112,62.2C108.33,61.67 106.03,60.7 104,59.6C101.97,58.5 100.73,57.12 99.8,55.6C98.87,54.08 98.43,52.13 98.4,50.5Z" fill="#C1561A" stroke="#FCF4FC" stroke-width="5.4"/></g>
<g clip-path="url(#cg4)"><path d="M28,104L28,78L33,77.2C34,77.07 37.23,76.77 39,76.4C40.77,76.03 42.45,75.8 43.6,75C44.75,74.2 45,72.55 45.9,71.6C46.8,70.65 47.53,69.87 49,69.3C50.47,68.73 52.87,68.4 54.7,68.2C56.53,68 58.15,68.02 60,68.1C61.85,68.18 63.88,68.22 65.8,68.7C67.72,69.18 69.63,70.07 71.5,71C73.37,71.93 75.25,73.37 77,74.3C78.75,75.23 80.43,75.93 82,76.6C83.57,77.27 84.4,77.65 86.4,78.3C88.4,78.95 91.07,79.98 94,80.5C96.93,81.02 101.33,81.12 104,81.4C106.67,81.68 108.4,81.68 110,82.2C111.6,82.72 112.72,83.37 113.6,84.5C114.48,85.63 114.9,87.42 115.3,89C115.7,90.58 115.85,92.17 116,94C116.15,95.83 116.17,99 116.2,100L116.2,104Z" fill="#C1561A" stroke="#FCF4FC" stroke-width="10.6"/><path d="M28,104L28,78L33,77.2C34,77.07 37.23,76.77 39,76.4C40.77,76.03 42.45,75.8 43.6,75C44.75,74.2 45,72.55 45.9,71.6C46.8,70.65 47.53,69.87 49,69.3C50.47,68.73 52.87,68.4 54.7,68.2C56.53,68 58.15,68.02 60,68.1C61.85,68.18 63.88,68.22 65.8,68.7C67.72,69.18 69.63,70.07 71.5,71C73.37,71.93 75.25,73.37 77,74.3C78.75,75.23 80.43,75.93 82,76.6C83.57,77.27 84.4,77.65 86.4,78.3C88.4,78.95 91.07,79.98 94,80.5C96.93,81.02 101.33,81.12 104,81.4C106.67,81.68 108.4,81.68 110,82.2C111.6,82.72 112.72,83.37 113.6,84.5C114.48,85.63 114.9,87.42 115.3,89C115.7,90.58 115.85,92.17 116,94C116.15,95.83 116.17,99 116.2,100L116.2,104Z" fill="none" stroke="#FF0606" stroke-width="2.4"/></g>
<g clip-path="url(#cg5)"><path d="M200,104L155.2,104L155.2,98.5L155.2,98.5C155.22,97.58 155.13,94.72 155.3,93C155.47,91.28 155.62,89.77 156.2,88.2C156.78,86.63 158.4,84.97 158.8,83.6C159.2,82.23 158.92,81.23 158.6,80C158.28,78.77 157.13,77.6 156.9,76.2C156.67,74.8 156.85,73.2 157.2,71.6C157.55,70 158.32,68.23 159,66.6C159.68,64.97 160.37,63.32 161.3,61.8C162.23,60.28 163.48,58.68 164.6,57.5C165.72,56.32 166.77,55.45 168,54.7C169.23,53.95 170.5,53.52 172,53C173.5,52.48 175.33,52.07 177,51.6C178.67,51.13 180.17,50.57 182,50.2C183.83,49.83 185,49.67 188,49.4C191,49.13 198,48.73 200,48.6Z" fill="#C1561A" stroke="#FCF4FC" stroke-width="5.0"/><path d="M200,104L155.2,104L155.2,98.5L155.2,98.5C155.22,97.58 155.13,94.72 155.3,93C155.47,91.28 155.62,89.77 156.2,88.2C156.78,86.63 158.4,84.97 158.8,83.6C159.2,82.23 158.92,81.23 158.6,80C158.28,78.77 157.13,77.6 156.9,76.2C156.67,74.8 156.85,73.2 157.2,71.6C157.55,70 158.32,68.23 159,66.6C159.68,64.97 160.37,63.32 161.3,61.8C162.23,60.28 163.48,58.68 164.6,57.5C165.72,56.32 166.77,55.45 168,54.7C169.23,53.95 170.5,53.52 172,53C173.5,52.48 175.33,52.07 177,51.6C178.67,51.13 180.17,50.57 182,50.2C183.83,49.83 185,49.67 188,49.4C191,49.13 198,48.73 200,48.6Z" fill="none" stroke="#FF0606" stroke-width="2.8"/></g>
<path d="M65.8,2.4C66.63,2.53 71.03,3.78 73.5,4.6C75.97,5.42 78.28,6.37 80.6,7.3C82.92,8.23 86.43,9.32 87.4,10.2C88.37,11.08 86.83,11.83 86.4,12.6C85.97,13.37 85.45,14.77 84.8,14.8C84.15,14.83 83.37,13.5 82.5,12.8C81.63,12.1 81.1,11.63 79.6,10.6C78.1,9.57 75.35,7.73 73.5,6.6C71.65,5.47 69.78,4.5 68.5,3.8C67.22,3.1 64.97,2.27 65.8,2.4Z" fill="#1E78C8" stroke="#fff" stroke-width="0.7"/>
<path d="M84.2,13.6 L87.6,10.6" stroke="url(#hatchw)" stroke-width="2.2"/>
<path d="M146.6,3.6C146.9,3.7 143.98,7.03 142.6,8.8C141.22,10.57 139.33,12.18 138.3,14.2C137.27,16.22 137.08,20.17 136.4,20.9C135.72,21.63 135.05,19.52 134.2,18.6C133.35,17.68 131.08,16.5 131.3,15.4C131.52,14.3 133.92,13.2 135.5,12C137.08,10.8 138.95,9.6 140.8,8.2C142.65,6.8 146.3,3.5 146.6,3.6Z" fill="#1E78C8" stroke="#fff" stroke-width="0.6"/>
</g></g>
<path d="M254.9,45.6 C262,49.9 268,52.4 276,53.0 C285,53.4 291,53.0 296.5,52.8" fill="none" stroke="#E050C8" stroke-width="0.6"/>
<path d="M254.9,46.4 C262,50.7 268,53.2 276,53.8 C285,54.2 291,53.8 296.5,53.6" fill="none" stroke="#2FA8E6" stroke-width="1.3"/>
<path d="M299.2,53.6 L295.5,51.9 L295.5,55.3 Z" fill="#2FA8E6"/>
<rect x="252.85" y="0.65" width="150.3" height="98.2" fill="none" stroke="#A9C2D2" stroke-width="0.6"/>
<rect x="253.4" y="1.2" width="149.2" height="97.1" fill="none" stroke="#262a30" stroke-width="0.85"/>
<text x="225.6" y="42.9" font-size="5.75" text-anchor="middle" font-weight="bold" font-style="normal" fill="#000" >Gas injection</text>
<path d="M210.2,50 L236.5,50" stroke="#000" stroke-width="1.8"/>
<path d="M240.5,50 L235.8,47.6 L235.8,52.4 Z" fill="#000"/>
<path d="M333.7,101.8 L333.7,117.5" stroke="#000" stroke-width="1.8"/>
<path d="M333.7,121.3 L331.3,116.6 L336.1,116.6 Z" fill="#000"/>
<text x="339.7" y="113.9" font-size="5.7" text-anchor="start" font-weight="bold" font-style="normal" fill="#000" >Caculation results</text>
<text x="227.3" y="168.7" font-size="5.6" text-anchor="middle" font-weight="bold" font-style="normal" fill="#000" >Validation</text>
<path d="M217,177.4 L243.5,177.4" stroke="#000" stroke-width="1.8"/>
<path d="M213.2,177.4 L217.9,175 L217.9,179.8 Z" fill="#000"/>
<path d="M46.6,123.4 L46.6,233.2 L182.6,233.2 L182.6,123.4" fill="none" stroke="#939393" stroke-width="1.1"/>
<path d="M46.6,233.2h1.5M182.6,233.2h-1.5M46.6,211.34h1.5M182.6,211.34h-1.5M46.6,189.48h1.5M182.6,189.48h-1.5M46.6,167.62h1.5M182.6,167.62h-1.5M46.6,145.76h1.5M182.6,145.76h-1.5M46.6,123.9h1.5M182.6,123.9h-1.5M46.6,233.2v-1.5M80.6,233.2v-1.5M114.6,233.2v-1.5M148.6,233.2v-1.5M182.6,233.2v-1.5" stroke="#555" stroke-width="0.7"/>
<text x="44.9" y="235.4" font-size="6.4" text-anchor="end" font-weight="normal" font-style="normal" fill="#000" >0</text>
<text x="184.5" y="235.7" font-size="6.4" text-anchor="start" font-weight="normal" font-style="normal" fill="#000" >0</text>
<text x="44.9" y="213.54" font-size="6.4" text-anchor="end" font-weight="normal" font-style="normal" fill="#000" >10</text>
<text x="184.5" y="213.84" font-size="6.4" text-anchor="start" font-weight="normal" font-style="normal" fill="#000" >10</text>
<text x="44.9" y="191.68" font-size="6.4" text-anchor="end" font-weight="normal" font-style="normal" fill="#000" >20</text>
<text x="184.5" y="191.98" font-size="6.4" text-anchor="start" font-weight="normal" font-style="normal" fill="#000" >20</text>
<text x="44.9" y="169.82" font-size="6.4" text-anchor="end" font-weight="normal" font-style="normal" fill="#000" >30</text>
<text x="184.5" y="170.12" font-size="6.4" text-anchor="start" font-weight="normal" font-style="normal" fill="#000" >30</text>
<text x="44.9" y="147.96" font-size="6.4" text-anchor="end" font-weight="normal" font-style="normal" fill="#000" >40</text>
<text x="184.5" y="148.26" font-size="6.4" text-anchor="start" font-weight="normal" font-style="normal" fill="#000" >40</text>
<text x="44.9" y="126.1" font-size="6.4" text-anchor="end" font-weight="normal" font-style="normal" fill="#000" >50</text>
<text x="184.5" y="126.4" font-size="6.4" text-anchor="start" font-weight="normal" font-style="normal" fill="#000" >50</text>
<text x="46.6" y="240.8" font-size="6.6" text-anchor="middle" font-weight="normal" font-style="normal" fill="#000" >200</text>
<text x="80.6" y="240.8" font-size="6.6" text-anchor="middle" font-weight="normal" font-style="normal" fill="#000" >205</text>
<text x="114.6" y="240.8" font-size="6.6" text-anchor="middle" font-weight="normal" font-style="normal" fill="#000" >210</text>
<text x="148.6" y="240.8" font-size="6.6" text-anchor="middle" font-weight="normal" font-style="normal" fill="#000" >215</text>
<text x="182.6" y="240.8" font-size="6.6" text-anchor="middle" font-weight="normal" font-style="normal" fill="#000" >220</text>
<text x="114.6" y="250.6" font-size="6.4" text-anchor="middle">Time(<tspan font-style="italic">d</tspan>)</text>
<text x="0" y="0" font-size="6.7" text-anchor="middle" font-weight="normal" font-style="normal" fill="#000" textLength="37.2" lengthAdjust="spacingAndGlyphs" transform="translate(36.0,178.3) rotate(-90)">Pressure(MPa)</text>
<text x="0" y="0" font-size="6.7" text-anchor="middle" font-weight="normal" font-style="normal" fill="#000" textLength="43.6" lengthAdjust="spacingAndGlyphs" transform="translate(198.2,178.1) rotate(-90)">Relative error(%)</text>
<path d="M46.6,186.6 L182.6,186.6" stroke="#FF5A5A" stroke-width="1.05"/>
<polyline points="46.6,182.1 53.4,182.4 60.2,182 67,181.1 73.8,181 80.6,181 87.4,181.3 94.2,181.5 101,181.7 107.8,181.9 114.6,181.8 121.4,181.8 128.2,181.9 135,182 141.8,182 148.6,182.1 155.4,182.2 162.2,182.3 169,182.4 175.8,182.5 182.6,182.6" fill="none" stroke="#A8DCA8" stroke-width="0.8" stroke-dasharray="1.6,1.2"/>
<polyline points="46.6,214.8 53.4,214.5 60.2,213.3 67,210.9 73.8,210.8 80.6,210.8 87.4,211.7 94.2,212.4 101,212.4 107.8,213.2 114.6,213.8 121.4,214.6 128.2,214.5 135,215.3 141.8,215.3 148.6,216.3 155.4,217.2 162.2,217.3 169,217.3 175.8,217.3 182.6,217.5" fill="none" stroke="#A8B8F0" stroke-width="0.8" stroke-dasharray="1.6,1.2"/>
<circle cx="46.6" cy="182.1" r="1.3" fill="#0A5A0A" stroke="#1E8A1E" stroke-width="0.35"/>
<circle cx="53.4" cy="182.4" r="1.3" fill="#0A5A0A" stroke="#1E8A1E" stroke-width="0.35"/>
<circle cx="60.2" cy="182" r="1.3" fill="#0A5A0A" stroke="#1E8A1E" stroke-width="0.35"/>
<circle cx="67" cy="181.1" r="1.3" fill="#0A5A0A" stroke="#1E8A1E" stroke-width="0.35"/>
<circle cx="73.8" cy="181" r="1.3" fill="#0A5A0A" stroke="#1E8A1E" stroke-width="0.35"/>
<circle cx="80.6" cy="181" r="1.3" fill="#0A5A0A" stroke="#1E8A1E" stroke-width="0.35"/>
<circle cx="87.4" cy="181.3" r="1.3" fill="#0A5A0A" stroke="#1E8A1E" stroke-width="0.35"/>
<circle cx="94.2" cy="181.5" r="1.3" fill="#0A5A0A" stroke="#1E8A1E" stroke-width="0.35"/>
<circle cx="101" cy="181.7" r="1.3" fill="#0A5A0A" stroke="#1E8A1E" stroke-width="0.35"/>
<circle cx="107.8" cy="181.9" r="1.3" fill="#0A5A0A" stroke="#1E8A1E" stroke-width="0.35"/>
<circle cx="114.6" cy="181.8" r="1.3" fill="#0A5A0A" stroke="#1E8A1E" stroke-width="0.35"/>
<circle cx="121.4" cy="181.8" r="1.3" fill="#0A5A0A" stroke="#1E8A1E" stroke-width="0.35"/>
<circle cx="128.2" cy="181.9" r="1.3" fill="#0A5A0A" stroke="#1E8A1E" stroke-width="0.35"/>
<circle cx="135" cy="182" r="1.3" fill="#0A5A0A" stroke="#1E8A1E" stroke-width="0.35"/>
<circle cx="141.8" cy="182" r="1.3" fill="#0A5A0A" stroke="#1E8A1E" stroke-width="0.35"/>
<circle cx="148.6" cy="182.1" r="1.3" fill="#0A5A0A" stroke="#1E8A1E" stroke-width="0.35"/>
<circle cx="155.4" cy="182.2" r="1.3" fill="#0A5A0A" stroke="#1E8A1E" stroke-width="0.35"/>
<circle cx="162.2" cy="182.3" r="1.3" fill="#0A5A0A" stroke="#1E8A1E" stroke-width="0.35"/>
<circle cx="169" cy="182.4" r="1.3" fill="#0A5A0A" stroke="#1E8A1E" stroke-width="0.35"/>
<circle cx="175.8" cy="182.5" r="1.3" fill="#0A5A0A" stroke="#1E8A1E" stroke-width="0.35"/>
<circle cx="182.6" cy="182.6" r="1.3" fill="#0A5A0A" stroke="#1E8A1E" stroke-width="0.35"/>
<path d="M46.6,213.05 L48.3,215.95 L44.9,215.95 Z" fill="#0A0AF0"/>
<path d="M53.4,212.75 L55.1,215.65 L51.7,215.65 Z" fill="#0A0AF0"/>
<path d="M60.2,211.55 L61.9,214.45 L58.5,214.45 Z" fill="#0A0AF0"/>
<path d="M67,209.15 L68.7,212.05 L65.3,212.05 Z" fill="#0A0AF0"/>
<path d="M73.8,209.05 L75.5,211.95 L72.1,211.95 Z" fill="#0A0AF0"/>
<path d="M80.6,209.05 L82.3,211.95 L78.9,211.95 Z" fill="#0A0AF0"/>
<path d="M87.4,209.95 L89.1,212.85 L85.7,212.85 Z" fill="#0A0AF0"/>
<path d="M94.2,210.65 L95.9,213.55 L92.5,213.55 Z" fill="#0A0AF0"/>
<path d="M101,210.65 L102.7,213.55 L99.3,213.55 Z" fill="#0A0AF0"/>
<path d="M107.8,211.45 L109.5,214.35 L106.1,214.35 Z" fill="#0A0AF0"/>
<path d="M114.6,212.05 L116.3,214.95 L112.9,214.95 Z" fill="#0A0AF0"/>
<path d="M121.4,212.85 L123.1,215.75 L119.7,215.75 Z" fill="#0A0AF0"/>
<path d="M128.2,212.75 L129.9,215.65 L126.5,215.65 Z" fill="#0A0AF0"/>
<path d="M135,213.55 L136.7,216.45 L133.3,216.45 Z" fill="#0A0AF0"/>
<path d="M141.8,213.55 L143.5,216.45 L140.1,216.45 Z" fill="#0A0AF0"/>
<path d="M148.6,214.55 L150.3,217.45 L146.9,217.45 Z" fill="#0A0AF0"/>
<path d="M155.4,215.45 L157.1,218.35 L153.7,218.35 Z" fill="#0A0AF0"/>
<path d="M162.2,215.55 L163.9,218.45 L160.5,218.45 Z" fill="#0A0AF0"/>
<path d="M169,215.55 L170.7,218.45 L167.3,218.45 Z" fill="#0A0AF0"/>
<path d="M175.8,215.55 L177.5,218.45 L174.1,218.45 Z" fill="#0A0AF0"/>
<path d="M182.6,215.75 L184.3,218.65 L180.9,218.65 Z" fill="#0A0AF0"/>
<rect x="72.3" y="119.4" width="89.1" height="24.6" fill="#fff" stroke="#c8c8c8" stroke-width="0.7"/>
<path d="M73,124.2 L87,124.2" stroke="#B4E0B4" stroke-width="0.9"/>
<circle cx="80.3" cy="124.2" r="1.3" fill="#0A5A0A" stroke="#1E8A1E" stroke-width="0.35"/>
<path d="M73,131.9 L87,131.9" stroke="#FF5050" stroke-width="0.9"/>
<path d="M73,140.2 L87,140.2" stroke="#C0C8F4" stroke-width="0.9"/>
<path d="M80.3,138.5 L81.9,141.3 L78.7,141.3 Z" fill="#0A0AF0"/>
<text x="88.7" y="126.1" font-size="6.2" text-anchor="start" font-weight="normal" font-style="normal" fill="#000" >actual formation pressure</text>
<text x="88.7" y="133.8" font-size="6.2" text-anchor="start" font-weight="normal" font-style="normal" fill="#000" >predicted formation pressure</text>
<text x="88.7" y="142.1" font-size="6.2" text-anchor="start" font-weight="normal" font-style="italic" fill="#000" >relative error</text>
<path d="M270.3,127.9 L270.3,228.6 L392.7,228.6 L392.7,127.9" fill="none" stroke="#939393" stroke-width="1.1"/>
<path d="M381.57,129.9 L381.57,228.6" stroke="#a0a0a0" stroke-width="0.65"/>
<path d="M270.3,228.6h1.3M270.3,217.41h1.3M270.3,206.22h1.3M270.3,195.03h1.3M270.3,183.84h1.3M270.3,172.66h1.3M270.3,161.47h1.3M270.3,150.28h1.3M270.3,139.09h1.3M270.3,127.9h1.3M392.7,228.6h-1.3M392.7,203.43h-1.3M392.7,178.25h-1.3M392.7,153.07h-1.3M392.7,127.9h-1.3M270.3,228.6v-1.3M281.43,228.6v-1.3M292.55,228.6v-1.3M303.68,228.6v-1.3M314.81,228.6v-1.3M325.94,228.6v-1.3M337.06,228.6v-1.3M348.19,228.6v-1.3M359.32,228.6v-1.3M370.45,228.6v-1.3M381.57,228.6v-1.3M392.7,228.6v-1.3" stroke="#555" stroke-width="0.7"/>
<text x="268.7" y="230.5" font-size="5.6" text-anchor="end" font-weight="normal" font-style="normal" fill="#000" >18.4</text>
<text x="268.7" y="219.31" font-size="5.6" text-anchor="end" font-weight="normal" font-style="normal" fill="#000" >18.8</text>
<text x="268.7" y="208.12" font-size="5.6" text-anchor="end" font-weight="normal" font-style="normal" fill="#000" >19.2</text>
<text x="268.7" y="196.93" font-size="5.6" text-anchor="end" font-weight="normal" font-style="normal" fill="#000" >19.6</text>
<text x="268.7" y="185.74" font-size="5.6" text-anchor="end" font-weight="normal" font-style="normal" fill="#000" >20.0</text>
<text x="268.7" y="174.56" font-size="5.6" text-anchor="end" font-weight="normal" font-style="normal" fill="#000" >20.4</text>
<text x="268.7" y="163.37" font-size="5.6" text-anchor="end" font-weight="normal" font-style="normal" fill="#000" >20.8</text>
<text x="268.7" y="152.18" font-size="5.6" text-anchor="end" font-weight="normal" font-style="normal" fill="#000" >21.2</text>
<text x="268.7" y="140.99" font-size="5.6" text-anchor="end" font-weight="normal" font-style="normal" fill="#000" >21.6</text>
<text x="268.7" y="129.8" font-size="5.6" text-anchor="end" font-weight="normal" font-style="normal" fill="#000" >22.0</text>
<text x="395" y="230.5" font-size="5.4" text-anchor="start" font-weight="normal" font-style="normal" fill="#000" >60000</text>
<text x="395" y="205.33" font-size="5.4" text-anchor="start" font-weight="normal" font-style="normal" fill="#000" >62500</text>
<text x="395" y="180.15" font-size="5.4" text-anchor="start" font-weight="normal" font-style="normal" fill="#000" >65000</text>
<text x="395" y="154.97" font-size="5.4" text-anchor="start" font-weight="normal" font-style="normal" fill="#000" >67500</text>
<text x="395" y="129.8" font-size="5.4" text-anchor="start" font-weight="normal" font-style="normal" fill="#000" >70000</text>
<text x="270.3" y="235.4" font-size="5.6" text-anchor="middle" font-weight="normal" font-style="normal" fill="#000" >0</text>
<text x="281.43" y="235.4" font-size="5.6" text-anchor="middle" font-weight="normal" font-style="normal" fill="#000" >20</text>
<text x="292.55" y="235.4" font-size="5.6" text-anchor="middle" font-weight="normal" font-style="normal" fill="#000" >40</text>
<text x="303.68" y="235.4" font-size="5.6" text-anchor="middle" font-weight="normal" font-style="normal" fill="#000" >60</text>
<text x="314.81" y="235.4" font-size="5.6" text-anchor="middle" font-weight="normal" font-style="normal" fill="#000" >80</text>
<text x="325.94" y="235.4" font-size="5.6" text-anchor="middle" font-weight="normal" font-style="normal" fill="#000" >100</text>
<text x="337.06" y="235.4" font-size="5.6" text-anchor="middle" font-weight="normal" font-style="normal" fill="#000" >120</text>
<text x="348.19" y="235.4" font-size="5.6" text-anchor="middle" font-weight="normal" font-style="normal" fill="#000" >140</text>
<text x="359.32" y="235.4" font-size="5.6" text-anchor="middle" font-weight="normal" font-style="normal" fill="#000" >160</text>
<text x="370.45" y="235.4" font-size="5.6" text-anchor="middle" font-weight="normal" font-style="normal" fill="#000" >180</text>
<text x="381.57" y="235.4" font-size="5.6" text-anchor="middle" font-weight="normal" font-style="normal" fill="#000" >200</text>
<text x="392.7" y="235.4" font-size="5.6" text-anchor="middle" font-weight="normal" font-style="normal" fill="#000" >220</text>
<text x="331.3" y="245.6" font-size="5.6" text-anchor="middle">Time(<tspan font-style="italic">d</tspan>)</text>
<text x="0" y="0" font-size="5.8" text-anchor="middle" font-weight="normal" font-style="normal" fill="#000" transform="translate(255.2,179.8) rotate(-90)">Formation pressure(MPa)</text>
<text font-size="5.6" text-anchor="middle" transform="translate(416.2,178.6) rotate(-90)">Gas inventory(10<tspan font-size="3.8" dy="-1.8">8</tspan><tspan dy="1.8">m</tspan><tspan font-size="3.8" dy="-1.8">3</tspan><tspan dy="1.8">)</tspan></text>
<text x="316" y="128.9" font-size="5.6" text-anchor="middle" font-weight="normal" font-style="normal" fill="#000" >alternate injection period</text>
<text x="378" y="127.9" font-size="5.6" text-anchor="middle" font-weight="normal" font-style="normal" fill="#000" >shut-in period</text>
<polyline points="269.8,191.6 276.9,184.4 283.6,180.4 290.2,177.3 295.8,173.8 300.2,172.2 304.7,171.1 305.8,171.1 311.3,167.1 316.9,164.9 322.4,162.9 326.9,162.2 332,159.6 336.7,157.1 346,154.8 356.7,152 363.3,151.1 372,149 381.1,147.1 392.7,147.2" fill="none" stroke="#0A14F0" stroke-width="1.25" stroke-linejoin="round"/>
<polyline points="269.6,228.2 274.2,223.3 278.3,220.2 284.5,216.7 290.7,213 296.9,208.9 300,206.4 305.1,206.4 311.3,202.7 316.5,200.2 321.6,197.9 327.8,196 334,192.6 339.1,190.6 345.5,188.3 356.7,185.1 365.6,183.3 373,181.6 381.1,180 392.7,180" fill="none" stroke="#F01010" stroke-width="1.25" stroke-linejoin="round"/>
<rect x="311" y="207.5" width="68.2" height="13.9" fill="#fff" stroke="#c8c8c8" stroke-width="0.6"/>
<path d="M311.7,211.6 L324.7,211.6" stroke="#B8C4F4" stroke-width="0.7"/>
<circle cx="317.6" cy="211.6" r="0.8" fill="#0A14F0"/>
<path d="M311.7,218.2 L324.7,218.2" stroke="#F4BCBC" stroke-width="0.7"/>
<circle cx="317.6" cy="218.2" r="0.8" fill="#F01010"/>
<text x="326" y="213.5" font-size="5.6" text-anchor="start" font-weight="normal" font-style="normal" fill="#000" >formation pressure</text>
<text x="326" y="220.1" font-size="5.6" text-anchor="start" font-weight="normal" font-style="normal" fill="#000" >predicted gas inventory</text>
</svg>
</body></html>
